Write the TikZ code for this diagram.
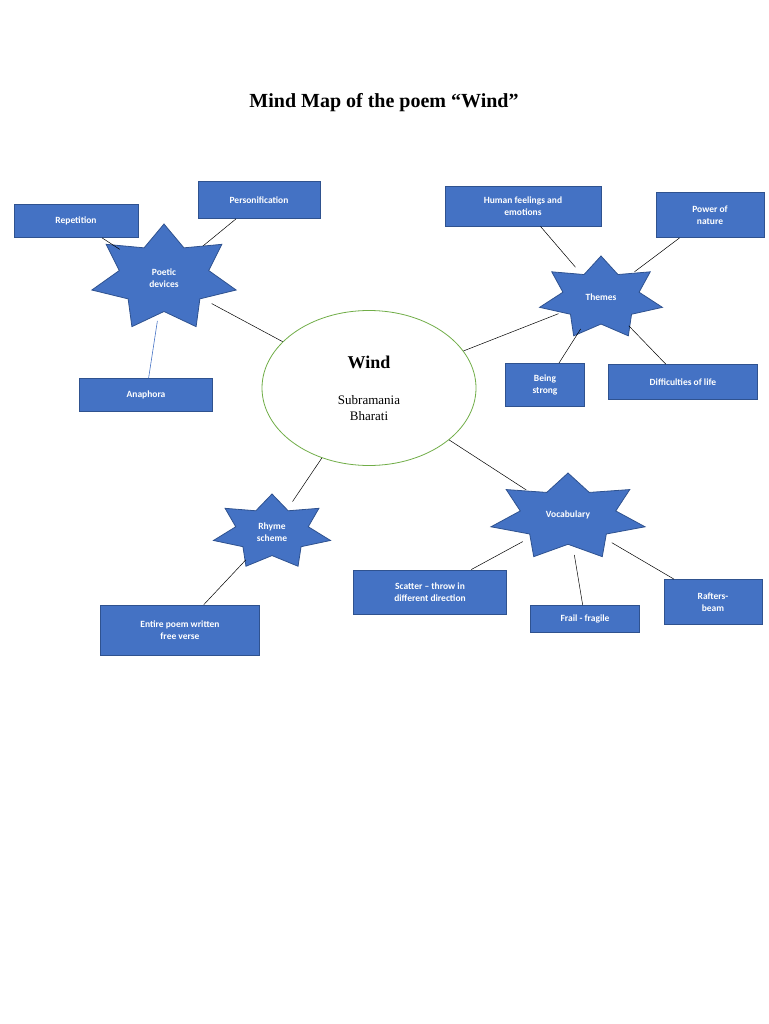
\documentclass[tikz,border=0pt]{standalone}
\usepackage{fontspec}
\setmainfont{Liberation Serif}
\newfontfamily\boxfont{Carlito}
\usetikzlibrary{shapes.geometric}
\definecolor{bfill}{HTML}{4472C4}
\definecolor{bdraw}{HTML}{2F528F}
\definecolor{egreen}{HTML}{70AD47}
\begin{document}
\begin{tikzpicture}[x=1pt,y=-1pt,
  box/.style={rectangle,fill=bfill,draw=bdraw,line width=0.8pt,text=white,font=\boxfont\fontsize{9.5}{11.5}\selectfont\bfseries,align=center,inner sep=0pt},
  stxt/.style={ellipse,inner sep=0pt,text=white,font=\boxfont\fontsize{9.5}{11.5}\selectfont\bfseries,align=center},
  starsty/.style={fill=bfill,draw=bdraw,line width=0.8pt},
  con/.style={draw=black,line width=0.5pt}]
\useasboundingbox (0,0) rectangle (768,1024);
\newcommand\mystar[4]{%
  \filldraw[starsty] ({#1+#3*cos(-90)},{#2+#4*sin(-90)})
  \foreach \i in {1,...,13}{ -- ({#1+ifthenelse(mod(\i,2)==0,1,0.62)*#3*cos(-90+\i*360/14)},{#2+ifthenelse(mod(\i,2)==0,1,0.62)*#4*sin(-90+\i*360/14)})} -- cycle;}

\node[font=\fontsize{20}{24}\selectfont\bfseries] (title) at (384,103) {Mind Map of the poem “Wind”};

\node[ellipse,draw=egreen,line width=0.8pt,fill=white,minimum width=214,minimum height=155] (wind) at (369,388) {};
\node[font=\fontsize{18}{22}\selectfont\bfseries] (wt) at (369,362) {Wind};
\node[font=\fontsize{13}{15.5}\selectfont,align=center] (wa) at (369,408) {Subramania\\Bharati};

\mystar{164}{278}{74}{54}
\mystar{601}{298}{63}{42}
\mystar{272}{532}{60}{38}
\mystar{568}{517}{79}{44}
\node[stxt,minimum width=118,minimum height=86] (pd) at (164,278) {Poetic\\devices};
\node[stxt,minimum width=96,minimum height=70] (th) at (601,297) {Themes};
\node[stxt,minimum width=90,minimum height=68] (rs) at (272,532) {Rhyme\\scheme};
\node[stxt,minimum width=118,minimum height=76] (vo) at (568,517) {};
\node[stxt] (vot) at (568,515) {Vocabulary};

\node[box,minimum width=124,minimum height=33] (rep) at (76,221) {Repetition};
\node[box,minimum width=122,minimum height=37] (per) at (259,200) {Personification};
\node[box,minimum width=133,minimum height=33] (ana) at (146,395) {Anaphora};
\node[box,minimum width=156,minimum height=40] (hum) at (523,206) {Human feelings and\\emotions};
\node[box,minimum width=108,minimum height=45] (pow) at (710,215) {Power of\\nature};
\node[box,minimum width=79,minimum height=43] (bei) at (545,385) {Being\\strong};
\node[box,minimum width=149,minimum height=35] (dif) at (683,382) {Difficulties of life};
\node[box,minimum width=159,minimum height=50] (ent) at (180,630) {Entire poem written\\free verse};
\node[box,minimum width=153,minimum height=44] (sca) at (430,592) {Scatter – throw in\\different direction};
\node[box,minimum width=109,minimum height=27] (fra) at (585,619) {Frail - fragile};
\node[box,minimum width=98,minimum height=45] (raf) at (713,602) {Rafters-\\beam};

\draw[con] (rep) -- (pd);
\draw[con] (per) -- (pd);
\draw[draw=bfill,line width=0.6pt] (ana) -- (pd);
\draw[con] (pd) -- (wind);
\draw[con] (wind) -- (th);
\draw[con] (hum) -- (th);
\draw[con] (pow) -- (th);
\draw[con] (bei) -- (th);
\draw[con] (dif) -- (th);
\draw[con] (wind) -- (rs);
\draw[con] (rs) -- (ent);
\draw[con] (wind) -- (vo);
\draw[con] (vo) -- (sca);
\draw[con] (vo) -- (fra);
\draw[con] (vo) -- (raf);
\end{tikzpicture}
\end{document}
